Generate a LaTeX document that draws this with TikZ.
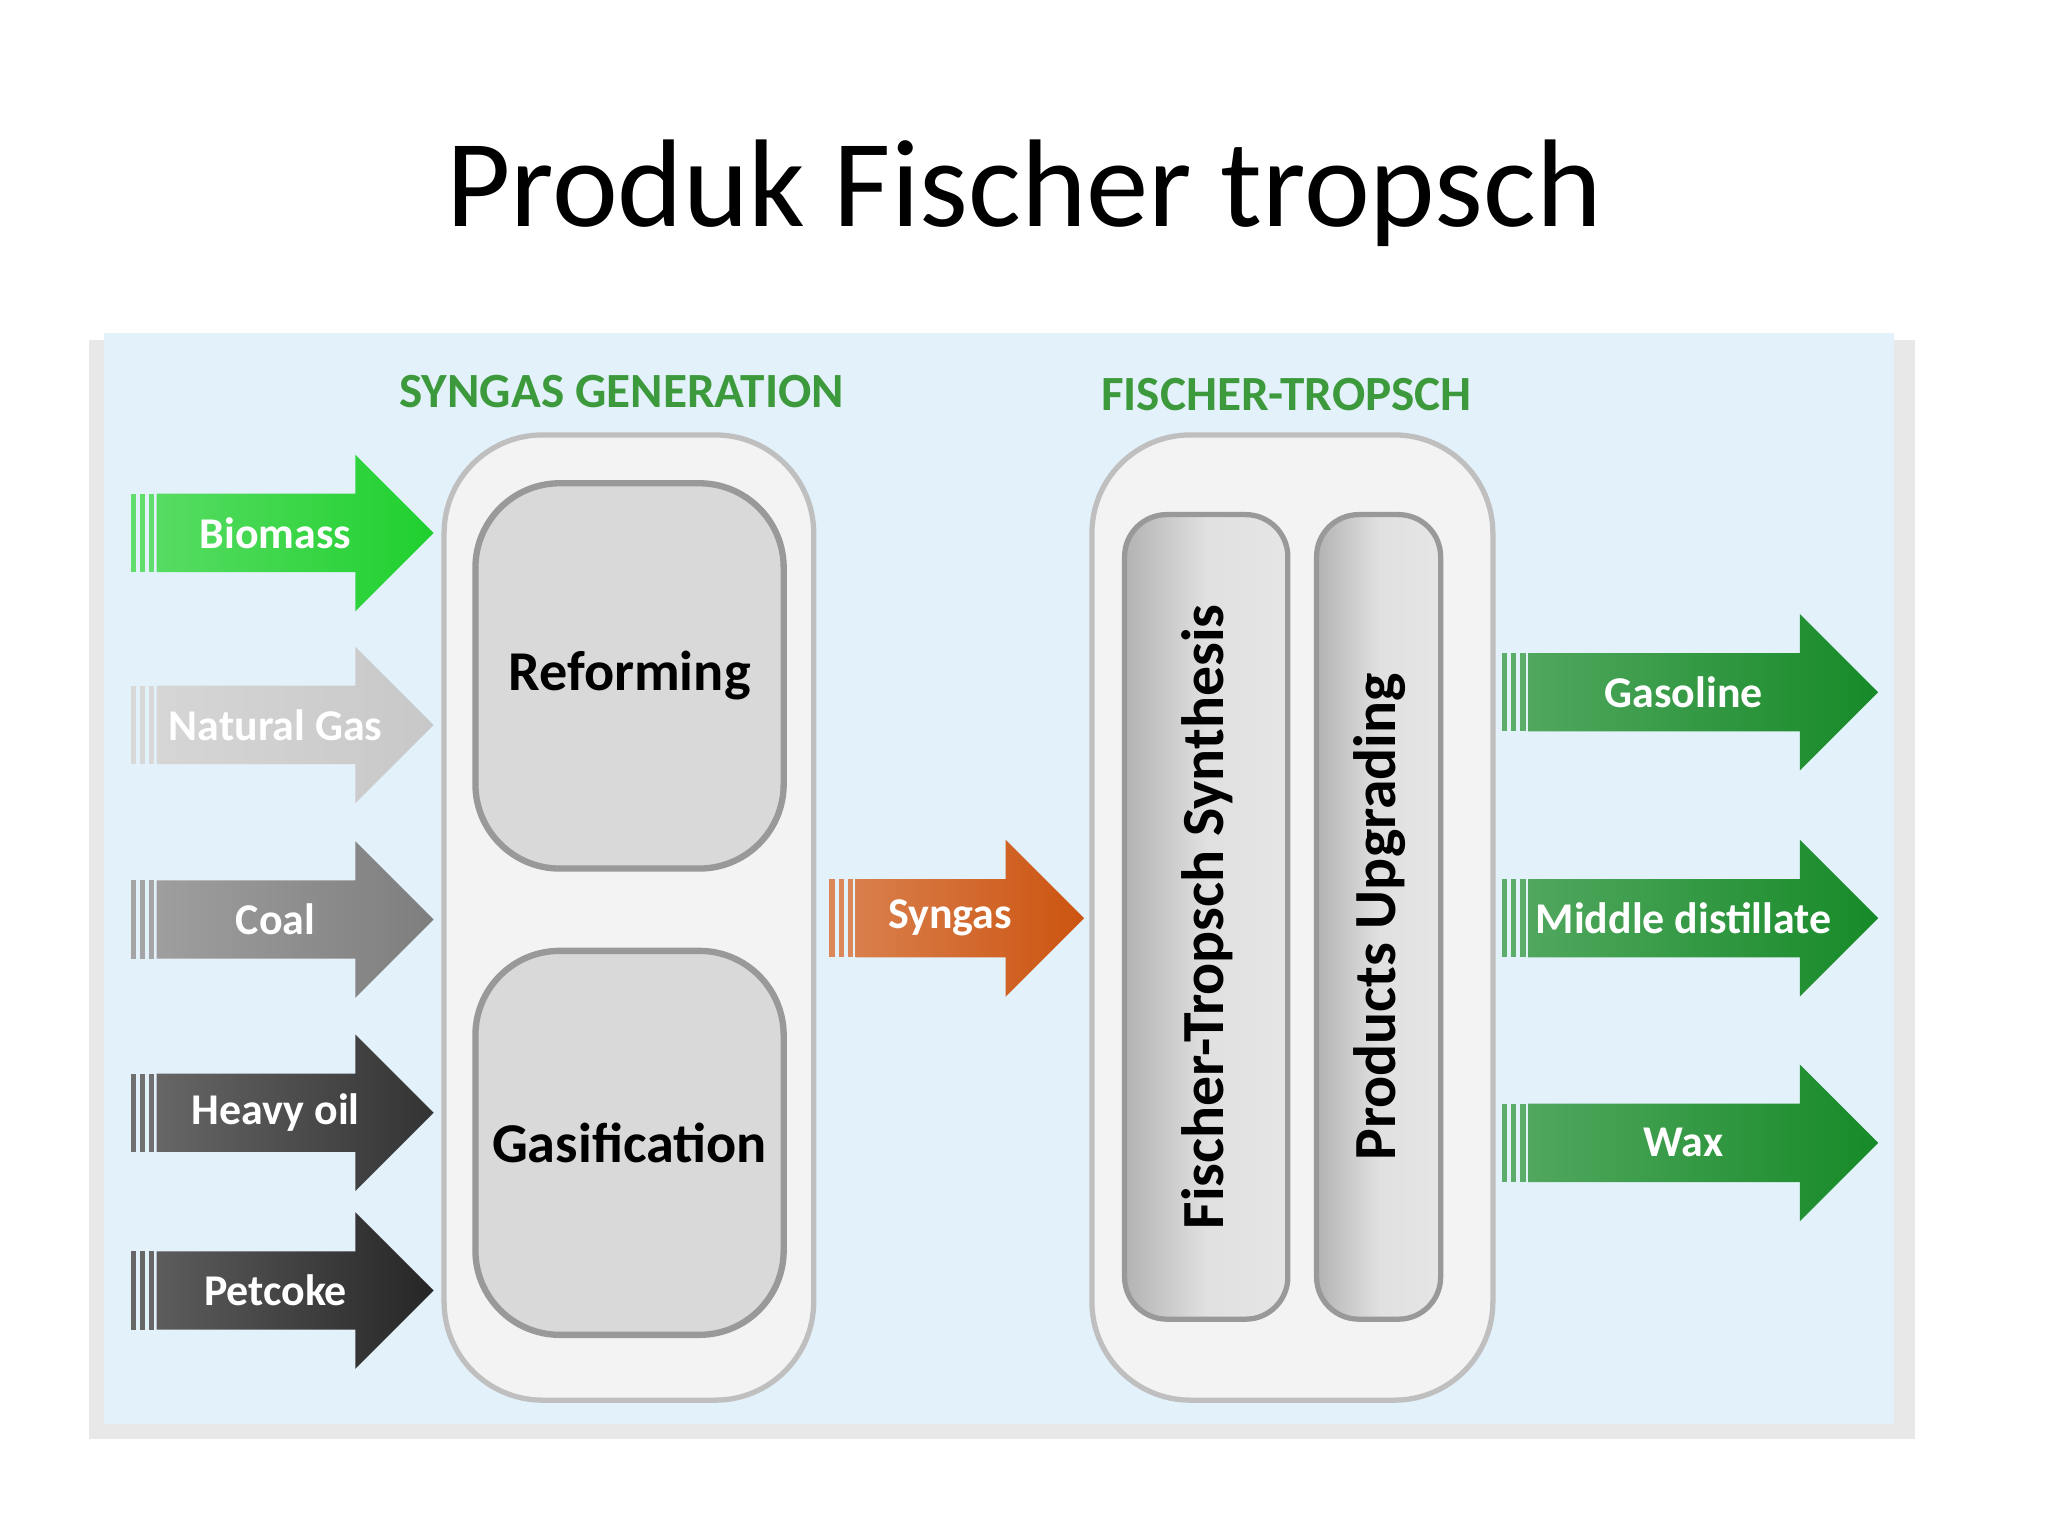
\documentclass[tikz,border=0pt]{standalone}
\usepackage{fontspec}
\setmainfont{Carlito}
\usetikzlibrary{shadows}
\definecolor{panel}{HTML}{E3F1FB}
\definecolor{hd}{HTML}{3C9A3C}
\definecolor{boxg}{HTML}{D9D9D9}
\definecolor{cont}{HTML}{F3F3F3}
\tikzset{
  lbl/.style={text=white,font=\bfseries\fontsize{12.5}{15}\selectfont},
  head/.style={text=hd,font=\bfseries\fontsize{14}{16}\selectfont},
  container/.style={draw=black!25,line width=1.5pt,fill=cont,rounded corners=28},
  proc/.style={draw=black!40,line width=1.8pt,fill=boxg,rounded corners=24},
  bar/.style={draw=black!40,line width=1.5pt,left color=black!30,right color=black!10,middle color=black!12,rounded corners=12},
}
% #1 x start, #2 y, #3 body end, #4 tip, #5 color, #6 label, #7 name, #8 text color
\newcommand{\fatarr}[8]{%
  \fill[#5!70!white] (#1,#2-30) rectangle ++(4,60);
  \fill[#5!70!white] (#1+7,#2-30) rectangle ++(4,60);
  \fill[#5!70!white] (#1+14,#2-30) rectangle ++(4,60);
  \shade[left color=#5!75!white,right color=#5]
    (#1+20,#2-30) -- (#3,#2-30) -- (#3,#2-60) -- (#4,#2) -- (#3,#2+60) -- (#3,#2+30) -- (#1+20,#2+30) -- cycle;
  \node[lbl,text=#8] (#7) at ({(#1+20+#3)/2+15},#2) {#6};
}
\begin{document}
\begin{tikzpicture}[x=0.01306cm,y=-0.01306cm]
\useasboundingbox (0,0) rectangle (1568,1176);
\fill[white] (0,0) rectangle (1568,1176);
\node[font=\fontsize{35.5}{40}\selectfont] (title) at (784,148) {Produk Fischer tropsch};
\fill[black!9] (68,260) rectangle (1466,1102);
\fill[panel] (80,255) rectangle (1450,1090);
\node[head] (h1) at (476,300) {SYNGAS GENERATION};
\node[head] (h2) at (985,302) {FISCHER-TROPSCH};
\draw[container] (340,333) rectangle (623,1072);
\draw[proc] (364,370) rectangle (600,665);
\node[font=\bfseries\fontsize{16}{19}\selectfont] (ref) at (482,517) {Reforming};
\draw[proc] (364,728) rectangle (600,1022);
\node[font=\bfseries\fontsize{16}{19}\selectfont] (gas) at (482,875) {Gasification};
\draw[container] (836,333) rectangle (1143,1072);
\draw[bar] (861,394) rectangle (986,1010);
\node[rotate=90,font=\bfseries\fontsize{17}{20}\selectfont] (fts) at (924,702) {Fischer-Tropsch Synthesis};
\draw[bar] (1008,394) rectangle (1103,1010);
\node[rotate=90,font=\bfseries\fontsize{17}{20}\selectfont] (pu) at (1056,702) {Products Upgrading};
\definecolor{cbio}{HTML}{1FD02E}
\definecolor{cng}{HTML}{C8C8C8}
\definecolor{ccoal}{HTML}{7E7E7E}
\definecolor{coil}{HTML}{333333}
\definecolor{cpet}{HTML}{262626}
\definecolor{csyn}{HTML}{CC5410}
\definecolor{cout}{HTML}{168A28}
\fatarr{100}{408}{272}{332}{cbio}{Biomass}{bio}{white}
\fatarr{100}{555}{272}{332}{cng}{Natural Gas}{ng}{white}
\fatarr{100}{704}{272}{332}{ccoal}{Coal}{coal}{white}
\fatarr{100}{852}{272}{332}{coil}{Heavy oil}{oil}{white}
\fatarr{100}{988}{272}{332}{cpet}{Petcoke}{pet}{white}
\fatarr{635}{703}{770}{830}{csyn}{Syngas}{syn}{white}
\fatarr{1150}{530}{1378}{1438}{cout}{Gasoline}{gasol}{white}
\fatarr{1150}{703}{1378}{1438}{cout}{Middle distillate}{mid}{white}
\fatarr{1150}{875}{1378}{1438}{cout}{Wax}{wax}{white}
\end{tikzpicture}
\end{document}
